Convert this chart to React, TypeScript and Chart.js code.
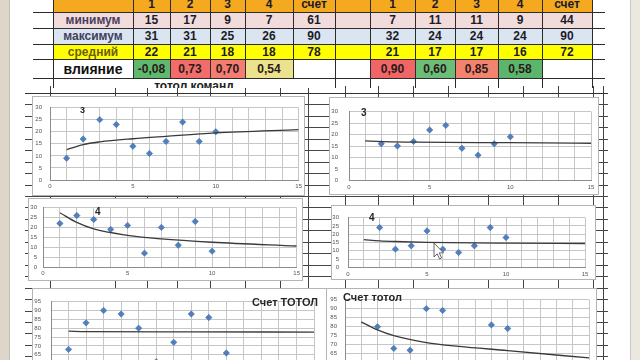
import React, { useEffect, useRef } from 'react';
import { Chart, registerables } from 'chart.js';

Chart.register(...registerables);

const FONT = '"Liberation Sans", Arial, Helvetica, sans-serif';

// ---------- table data ----------
const headerLabels = ['1', '2', '3', '4', 'счет'];
const rowLabels = ['минимум', 'максимум', 'средний', 'влияние'];
const leftMin = [15, 17, 9, 7, 61];
const leftMax = [31, 31, 25, 26, 90];
const leftAvg = [22, 21, 18, 18, 78];
const leftInfluence = ['-0,08', '0,73', '0,70', '0,54'];
const rightMin = [7, 11, 11, 9, 44];
const rightMax = [32, 24, 24, 24, 90];
const rightAvg = [21, 17, 17, 16, 72];
const rightInfluence = ['0,90', '0,60', '0,85', '0,58'];
const captionText = 'тотол команд';

// ---------- chart data ----------
const xLeft = [1, 2, 3, 4, 5, 6, 7, 8, 9, 10];
const xRight = [2, 3, 4, 5, 6, 7, 8, 9, 10];
const chart1Y = [9, 17, 25, 23, 14, 11, 16, 24, 16, 20];
const chart2Y = [16, 15, 17, 22, 24, 14, 11, 16, 19];
const chart3Y = [22, 26, 24, 19, 21, 7, 20, 11, 23, 8];
const chart4Y = [24, 11, 13, 22, 11, 9, 13, 24, 18];
const chart5Y = [68, 83, 90, 88, 80, 61, 72, 88, 86, 66];
const chart6Y = [80, 68, 67, 90, 89, 50, 44, 81, 79];

const trend1X = [1, 2, 3, 5, 7, 10, 15];
const trend1Y = [12.6, 14.7, 15.8, 17.1, 18.1, 19.5, 20.9];
const trend2X = [1, 2, 4, 8, 12, 15];
const trend2Y = [17.2, 16.9, 16.7, 16.5, 16.4, 16.2];
const trend3X = [1, 2, 3, 5, 7, 10, 15];
const trend3Y = [27.4, 22.5, 19.2, 16.0, 14.2, 12.5, 10.6];
const trend4X = [1, 2, 3, 5, 10, 15];
const trend4Y = [16.7, 16.0, 15.6, 15.1, 14.6, 14.4];
const trend5X = [1, 2, 8, 15];
const trend5Y = [78.3, 78.1, 77.9, 77.8];
const trend6X = [1, 2, 3, 5, 7, 10, 15];
const trend6Y = [82.7, 78.2, 75.0, 71.2, 69.1, 66.8, 62.7];

const chartNotes = ['3', '3', '4', '4', 'Счет ТОТОЛ', 'Счет тотол'];
const xTickLabels = [0, 5, 10, 15];

// ---------- layout / styles ----------
const colX = [53, 133, 170, 210, 245, 293, 335, 370, 415, 455, 498, 542, 592];
const rowY = [-4, 12, 28, 44, 59, 78];
const rowFill = ['#f5a91f', '#f2dcdb', '#dbe5f1', '#ffff00', '#ffffff'];
const labelColors = ['#4b3f5e', '#40405e', '#6b5e10', '#111111'];
const leftInfluenceFill = ['#5eb96e', '#f36c6c', '#f47c72', '#ece18d'];
const rightInfluenceFill = ['#f26567', '#6bbd78', '#f3836f', '#5cb56c'];

type PanelSpec = {
  box: number[];
  plot: number[];
  xs: number[];
  ys: number[];
  tx: number[];
  ty: number[];
  yMin: number;
  yMax: number;
  yPad: number;
  note: { left: number; top: number; size: number };
};

const panels: PanelSpec[] = [
  { box: [32, 96, 305, 196], plot: [50, 102, 299, 180], xs: xLeft, ys: chart1Y, tx: trend1X, ty: trend1Y, yMin: 0, yMax: 30, yPad: 8, note: { left: 80, top: 105.8, size: 9 } },
  { box: [329, 97, 599, 195], plot: [349, 106, 591, 184], xs: xRight, ys: chart2Y, tx: trend2X, ty: trend2Y, yMin: 0, yMax: 30, yPad: 11, note: { left: 361, top: 107.7, size: 10 } },
  { box: [28, 198, 303, 281], plot: [43, 201, 297, 267], xs: xLeft, ys: chart3Y, tx: trend3X, ty: trend3Y, yMin: 0, yMax: 30, yPad: 6, note: { left: 95, top: 206.7, size: 10 } },
  { box: [331, 205, 596, 280], plot: [348, 208, 585, 268], xs: xRight, ys: chart4Y, tx: trend4X, ty: trend4Y, yMin: 0, yMax: 30, yPad: 9, note: { left: 369, top: 212.7, size: 10 } },
  { box: [32, 288, 330, 416], plot: [51, 296, 314, 399], xs: xLeft, ys: chart5Y, tx: trend5X, ty: trend5Y, yMin: 40, yMax: 95, yPad: 10, note: { left: 252, top: 296.6, size: 11 } },
  { box: [326, 288, 597, 416], plot: [345, 295, 589, 399], xs: xRight, ys: chart6Y, tx: trend6X, ty: trend6Y, yMin: 40, yMax: 95, yPad: 8, note: { left: 343, top: 291.6, size: 11 } },
];

function Panel({ spec, index }: { spec: PanelSpec; index: number }) {
  const ref = useRef<HTMLCanvasElement>(null);
  const [bl, bt, br, bb] = spec.box;
  const [pl, pt, pr, pb] = spec.plot;
  const w = br - bl;
  const h = bb - bt;
  useEffect(() => {
    const chart = new Chart(ref.current as HTMLCanvasElement, {
      type: 'scatter',
      data: {
        datasets: [
          {
            data: spec.tx.map((x, i) => ({ x, y: spec.ty[i] })),
            showLine: true,
            pointRadius: 0,
            pointHoverRadius: 0,
            borderColor: '#3a3a3a',
            borderWidth: 1.3,
            cubicInterpolationMode: 'monotone',
            fill: false,
          } as any,
          {
            data: spec.xs.map((x, i) => ({ x, y: spec.ys[i] })),
            pointStyle: 'rectRot',
            pointRadius: 3.2,
            pointHoverRadius: 3.2,
            backgroundColor: '#4f7fbf',
            borderColor: '#3d679c',
            borderWidth: 0.5,
          } as any,
        ],
      },
      options: {
        animation: false,
        responsive: false,
        devicePixelRatio: 1,
        events: [],
        layout: { padding: { left: 0, top: pt - bt, right: br - pr, bottom: 0 } },
        plugins: { legend: { display: false }, tooltip: { enabled: false }, title: { display: false } },
        scales: {
          x: {
            type: 'linear',
            min: 0,
            max: 15,
            afterFit: (s: any) => { s.height = bb - pb; },
            ticks: {
              stepSize: 1,
              autoSkip: false,
              maxRotation: 0,
              padding: 3,
              color: '#555555',
              font: { size: 6, family: FONT },
              callback: (v: any) => (xTickLabels.includes(Number(v)) ? String(v) : ''),
            },
            grid: { color: '#c6c6c6', lineWidth: 1, drawTicks: false },
            border: { color: '#8c8c8c', width: 1 },
          },
          y: {
            type: 'linear',
            min: spec.yMin,
            max: spec.yMax,
            afterFit: (s: any) => { s.width = pl - bl; },
            ticks: {
              stepSize: 5,
              autoSkip: false,
              padding: spec.yPad,
              color: '#555555',
              font: { size: 6, family: FONT },
            },
            grid: { color: '#c6c6c6', lineWidth: 1, drawTicks: false },
            border: { color: '#8c8c8c', width: 1 },
          },
        },
      } as any,
    });
    return () => chart.destroy();
  }, []);
  const n = spec.note;
  return (
    <div style={{ position: 'absolute', left: 0, top: 0, zIndex: 10 + index }}>
      <div
        style={{
          position: 'absolute', left: bl, top: bt, width: w, height: h,
          boxSizing: 'border-box', border: '1px solid #b4b4b4', background: '#ffffff',
        }}
      />
      <canvas ref={ref} width={w} height={h} style={{ position: 'absolute', left: bl, top: bt, width: w, height: h }} />
      <div
        style={{
          position: 'absolute', left: n.left, top: n.top, fontSize: n.size, lineHeight: `${n.size}px`,
          fontWeight: 'bold', color: '#262626', whiteSpace: 'nowrap', fontFamily: FONT,
        }}
      >
        {chartNotes[index]}
      </div>
    </div>
  );
}

function SheetGrid() {
  const els: any[] = [];
  let k = 0;
  for (let y = 93; y < 362; y += 11.45) {
    els.push(<div key={'h' + k++} style={{ position: 'absolute', left: 25, top: Math.round(y), width: 583, height: 1, background: '#454545' }} />);
  }
  const gridColX = [50, 115, 147, 177, 210, 245, 280, 308, 345, 378, 413, 448, 488, 523, 558, 593, 603];
  gridColX.forEach((x, i) => {
    els.push(<div key={'v' + i} style={{ position: 'absolute', left: x, top: 86, width: 1, height: 280, background: '#454545' }} />);
  });
  return <div style={{ position: 'absolute', left: 0, top: 0, zIndex: 1 }}>{els}</div>;
}

function Table() {
  const els: any[] = [];
  const leftRows = [leftMin, leftMax, leftAvg];
  const rightRows = [rightMin, rightMax, rightAvg];
  for (let r = 0; r < 5; r++) {
    for (let c = 0; c < 12; c++) {
      const left = colX[c];
      const width = colX[c + 1] - colX[c];
      const top = rowY[r];
      const height = rowY[r + 1] - rowY[r];
      let bg = rowFill[r];
      let text: any = '';
      let color = '#1c1c28';
      let size = 12;
      if (r === 0) {
        if (c >= 1 && c <= 5) text = headerLabels[c - 1];
        if (c >= 7 && c <= 11) text = headerLabels[c - 7];
      } else if (r <= 3) {
        if (c === 0) { text = rowLabels[r - 1]; color = labelColors[r - 1]; }
        if (c >= 1 && c <= 5) text = leftRows[r - 1][c - 1];
        if (c >= 7 && c <= 11) text = rightRows[r - 1][c - 7];
      } else {
        if (c === 0) { text = rowLabels[3]; color = labelColors[3]; size = 14; }
        if (c >= 1 && c <= 4) { text = leftInfluence[c - 1]; bg = leftInfluenceFill[c - 1]; color = '#2a1a1a'; }
        if (c >= 7 && c <= 10) { text = rightInfluence[c - 7]; bg = rightInfluenceFill[c - 7]; color = '#2a1a1a'; }
      }
      els.push(
        <div
          key={`c${r}-${c}`}
          style={{
            position: 'absolute', left, top, width, height, background: bg,
            display: 'flex', alignItems: 'center', justifyContent: 'center',
            fontWeight: 'bold', fontSize: size, color, fontFamily: FONT, whiteSpace: 'nowrap',
          }}
        >
          {text}
        </div>
      );
    }
  }
  rowY.slice(1).forEach((y, i) => {
    els.push(<div key={'th' + i} style={{ position: 'absolute', left: 33, top: y, width: 572, height: 1, background: '#2b2b2b' }} />);
  });
  colX.forEach((x, i) => {
    const bottom = i === 0 || i >= 6 ? 88 : 78;
    els.push(<div key={'tv' + i} style={{ position: 'absolute', left: x, top: -4, width: 1, height: bottom + 4, background: '#2b2b2b' }} />);
  });
  // caption row, clipped at the bottom
  els.push(
    <div key="cap" style={{ position: 'absolute', left: 54, top: 79, width: 280, height: 9, overflow: 'hidden', background: '#ffffff' }}>
      <div style={{ position: 'absolute', left: 0, top: 0, width: 280, textAlign: 'center', fontSize: 12, lineHeight: '14px', fontWeight: 'bold', color: '#222', fontFamily: FONT }}>
        {captionText}
      </div>
    </div>
  );
  els.push(<div key="capline" style={{ position: 'absolute', left: 25, top: 93, width: 583, height: 1, background: '#333' }} />);
  return <div style={{ position: 'absolute', left: 0, top: 0, zIndex: 2 }}>{els}</div>;
}

function Cursor() {
  return (
    <svg width="14" height="20" style={{ position: 'absolute', left: 433, top: 242, zIndex: 40 }}>
      <path d="M1,1 L1,15 L4.2,11.8 L6.6,17 L8.6,16 L6.3,10.9 L10.5,10.9 Z" fill="#ffffff" stroke="#555" strokeWidth="0.9" />
    </svg>
  );
}

function Frame() {
  return (
    <div style={{ position: 'absolute', left: 0, top: 0, zIndex: 50 }}>
      <div style={{ position: 'absolute', left: 0, top: 0, width: 9, height: 360, background: '#ddd7cb' }} />
      <div style={{ position: 'absolute', left: 9, top: 0, width: 1, height: 360, background: '#c5bdae' }} />
      <div style={{ position: 'absolute', left: 631, top: 0, width: 9, height: 360, background: '#ebe8e2' }} />
      <div style={{ position: 'absolute', left: 630, top: 0, width: 1, height: 360, background: '#cdc9c1' }} />
    </div>
  );
}

export default function App() {
  return (
    <div
      style={{
        position: 'absolute', left: 0, top: 0, width: 640, height: 360, overflow: 'hidden',
        background: '#ffffff', fontFamily: FONT,
      }}
    >
      <SheetGrid />
      <Table />
      {panels.map((p, i) => (
        <Panel key={i} spec={p} index={i} />
      ))}
      <Cursor />
      <Frame />
    </div>
  );
}
